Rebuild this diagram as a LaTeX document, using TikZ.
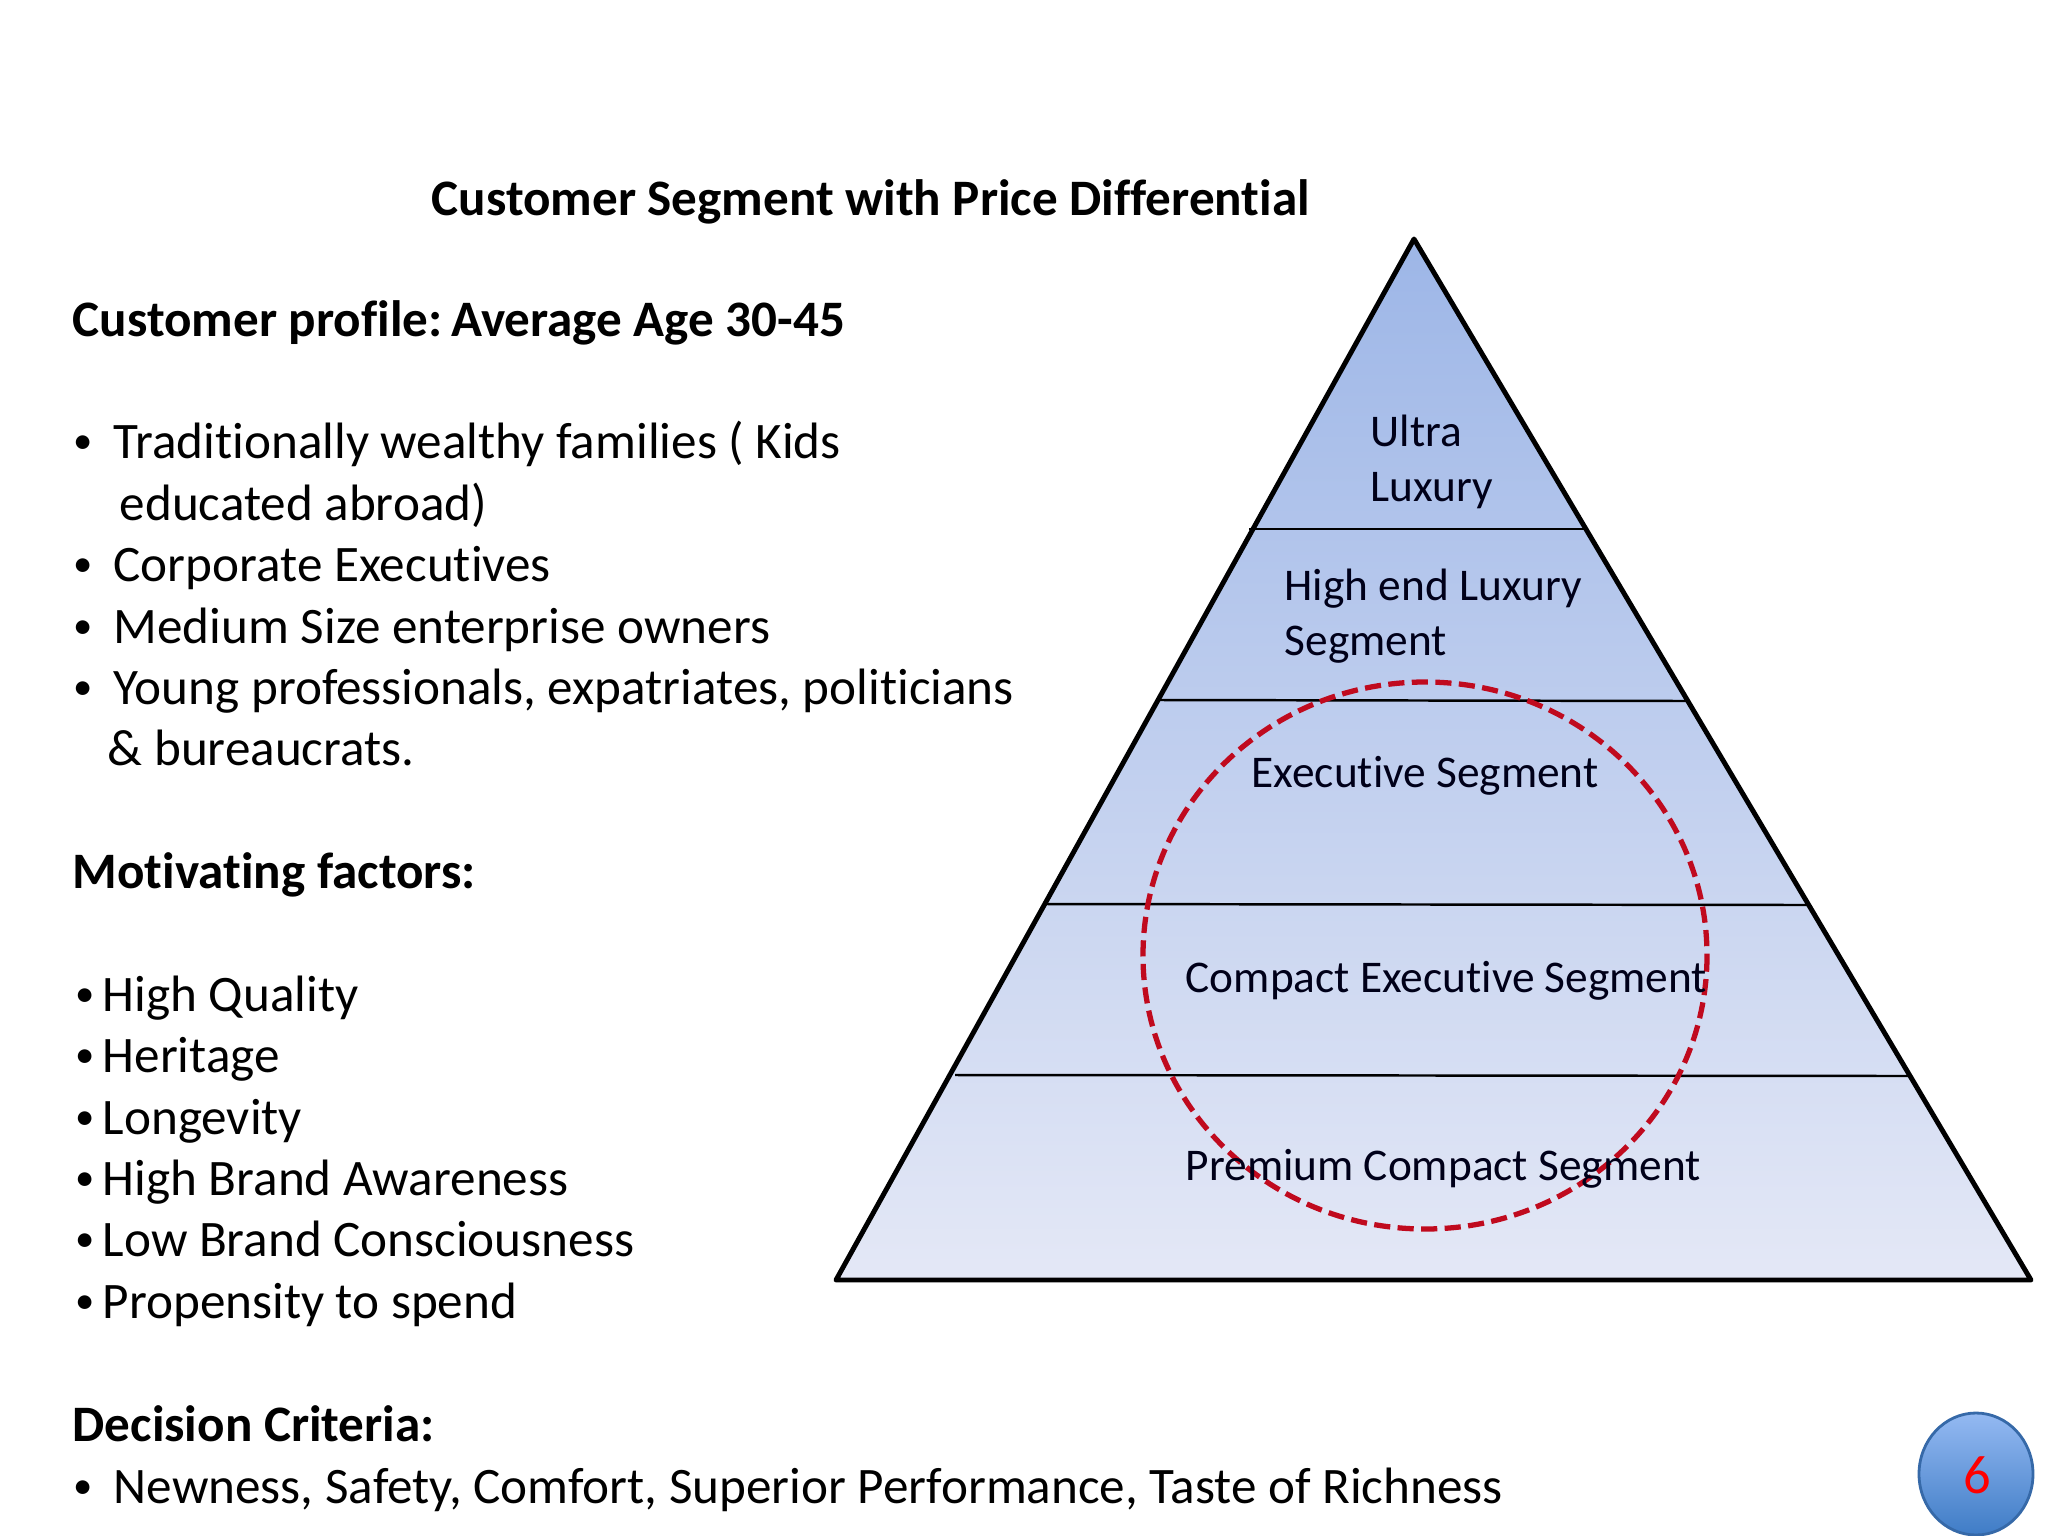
\documentclass[tikz,border=0pt]{standalone}
\usepackage{fontspec}
\setmainfont[Ligatures={TeX,NoCommon}]{Carlito}
\begin{document}
\begin{tikzpicture}[x=0.01cm,y=-0.01cm]
        \tikzstyle{heading} = [anchor=base west, inner sep=0pt, font=\fontsize{14.54}{18}\selectfont\bfseries, text=black]
        \tikzstyle{body} = [anchor=base west, inner sep=0pt, font=\fontsize{14.55}{18}\selectfont, text=black]
        \tikzstyle{bulletmark} = [anchor=base west, inner sep=0pt, yshift=1.3pt, font=\fontsize{11}{13}\selectfont, text=black]
        \tikzstyle{segment} = [anchor=base west, inner sep=0pt, font=\fontsize{12.9}{15}\selectfont, text=black!90!blue]
        \tikzstyle{tier} = [line width=0.7pt, black]
        \definecolor{tiptop}{HTML}{9DB6E7}
        \definecolor{tipbottom}{HTML}{E4E8F6}
        \definecolor{ringred}{HTML}{C00A1E}
        \definecolor{badgetop}{HTML}{94B9F2}
        \definecolor{badgebottom}{HTML}{3F7CC6}
        \useasboundingbox (0,0) rectangle (2048,1536);

        % pyramid
        \coordinate (apex) at (1414,239);
        \coordinate (baseleft) at (836,1280);
        \coordinate (baseright) at (2031,1280);
        \fill [top color=tiptop, bottom color=tipbottom] (apex) -- (baseright) -- (baseleft) -- cycle;
        \coordinate (a1) at (1249,529);
        \coordinate (b1) at (1586,529);
        \coordinate (a2) at (1160,700);
        \coordinate (b2) at (1689,701);
        \coordinate (a3) at (1044,904);
        \coordinate (b3) at (1809,905);
        \coordinate (a4) at (955,1075);
        \coordinate (b4) at (1910,1076);
        \draw [tier] (a1) -- (b1);
        \draw [tier] (a2) -- (b2);
        \draw [tier] (a3) -- (b3);
        \draw [tier] (a4) -- (b4);
        \draw [line width=1.4pt, line join=round] (apex) -- (baseright) -- (baseleft) -- cycle;
        \draw [ringred, line width=1.5pt, dash pattern=on 4.6pt off 2.1pt] (1425,955.5) ellipse [x radius=282, y radius=273.5];

        \node (ultra) [segment] at (1370,446) {Ultra};
        \node (luxury) [segment] at (1370,501) {Luxury};
        \node (highend) [segment] at (1284,600) {High end Luxury};
        \node (highendb) [segment] at (1284,655) {Segment};
        \node (executive) [segment] at (1251,787) {Executive Segment};
        \node (compact) [segment] at (1185,992) {Compact Executive Segment};
        \node (premium) [segment] at (1185,1180) {Premium Compact Segment};

        % left column
        \node (title) [heading] at (431,215) {Customer Segment with Price Differential};
        \node (profile) [heading] at (72,336) {Customer profile:\kern-1.8pt{} Average Age 30-45};
        \node (b1a) [bulletmark] at (73,458) {•};
        \node (wealthy) [body] at (113,458) {Traditionally wealthy families ( Kids};
        \node (abroad) [body] at (119,520) {educated abroad)};
        \node (b2a) [bulletmark] at (73,581) {•};
        \node (corporate) [body] at (113,581) {Corporate Executives};
        \node (b3a) [bulletmark] at (73,643) {•};
        \node (medium) [body] at (113,643) {Medium Size enterprise owners};
        \node (b4a) [bulletmark] at (73,704) {•};
        \node (young) [body] at (113,704) {Young professionals, expatriates, politicians};
        \node (bureau) [body] at (107,765) {\& bureaucrats.};
        \node (motivating) [heading] at (72,888) {Motivating factors:};
        \node (b5a) [bulletmark] at (75,1011) {•};
        \node (quality) [body] at (102,1011) {High Quality};
        \node (b6a) [bulletmark] at (75,1072) {•};
        \node (heritage) [body] at (102,1072) {Heritage};
        \node (b7a) [bulletmark] at (75,1134) {•};
        \node (longevity) [body] at (102,1134) {Longevity};
        \node (b8a) [bulletmark] at (75,1195) {•};
        \node (awareness) [body] at (102,1195) {High Brand Awareness};
        \node (b9a) [bulletmark] at (75,1256) {•};
        \node (conscious) [body] at (102,1256) {Low Brand Consciousness};
        \node (b10a) [bulletmark] at (75,1318) {•};
        \node (propensity) [body] at (102,1318) {Propensity to spend};
        \node (decision) [heading] at (72,1441) {Decision Criteria:};
        \node (b11a) [bulletmark] at (73,1503) {•};
        \node (newness) [body] at (113,1503) {Newness, Safety, Comfort, Superior Performance, Taste of Richness};

        % page badge
        \shade [top color=badgetop, bottom color=badgebottom] (1976,1474) ellipse [x radius=57, y radius=61];
        \draw [line width=0.8pt, color=badgebottom!85!black] (1976,1474) ellipse [x radius=57, y radius=61];
        \node (page) [anchor=base, inner sep=0pt, font=\fontsize{15.5}{18}\selectfont, text=red] at (1977,1493) {6};
\end{tikzpicture}
\end{document}
